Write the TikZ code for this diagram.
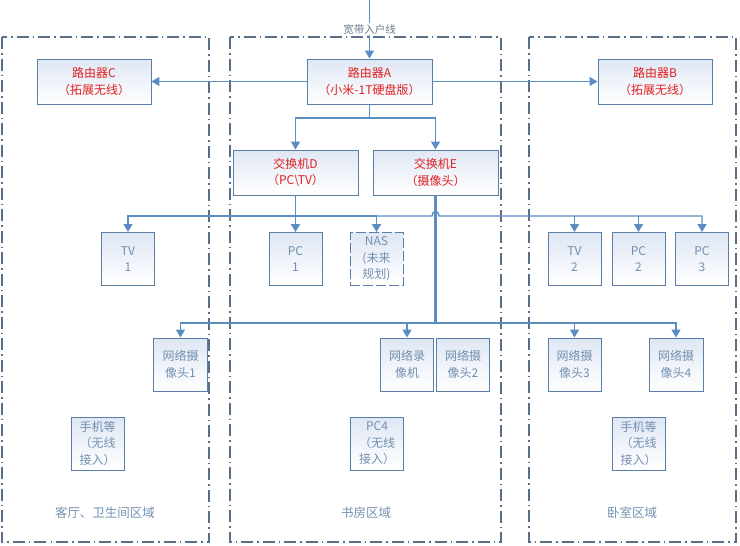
\documentclass[tikz,border=0pt]{standalone}
\usepackage{fontspec}
\usetikzlibrary{arrows.meta}
\newfontfamily\cjk{Noto Sans CJK SC}
\definecolor{boxline}{HTML}{5B7EA6}
\definecolor{linkblue}{HTML}{5B8DC3}
\definecolor{zoneline}{HTML}{5A6F88}
\definecolor{devtext}{HTML}{7390B0}
\definecolor{keytext}{HTML}{E02020}
\definecolor{boxfill}{HTML}{DFE7F4}
\definecolor{isptext}{HTML}{6B7C8E}

\tikzset{
  box/.style={draw=boxline, line width=0.9pt, top color=boxfill, bottom color=white,
    inner sep=0pt, align=center, font=\cjk\fontsize{12}{16.5}\selectfont},
  keybox/.style={box, text=keytext, minimum height=45pt},
  devbox/.style={box, text=devtext, minimum width=53pt, minimum height=53pt},
  link/.style={draw=linkblue, line width=1.4pt, -{Triangle[width=9pt,length=8pt]}},
  trunk/.style={draw=linkblue, line width=2.2pt},
  zone/.style={draw=zoneline, line width=1.3pt, dash pattern=on 12pt off 4pt on 1.5pt off 4pt},
  zonelabel/.style={text=devtext, font=\cjk\fontsize{12.5}{15}\selectfont}
}

\begin{document}
\begin{tikzpicture}[x=1pt,y=-1pt]
   \useasboundingbox (0,0) rectangle (740,546);

   \draw[zone] (2,37) rectangle (209,542);
   \draw[zone] (230,37) rectangle (501,542);
   \draw[zone] (529,37) rectangle (736,542);

   \path (369.5,81.5) node[keybox,minimum width=125pt] (A) {路由器A\\（小米-1T硬盘版）};
   \path (94,81.5) node[keybox,minimum width=114pt] (C) {路由器C\\（拓展无线）};
   \path (655,81.5) node[keybox,minimum width=114pt] (B) {路由器B\\（拓展无线）};
   \path (295.5,172.5) node[keybox,minimum width=125pt] (D) {交换机D\\（PC\textbackslash TV）};
   \path (435.5,172.5) node[keybox,minimum width=125pt] (E) {交换机E\\（摄像头）};

   \path (128,259) node[devbox] (TV1) {TV\\1};
   \path (295.5,259) node[devbox] (PC1) {PC\\1};
   \path (376.5,259) node[devbox,dash pattern=on 10pt off 3pt] (NAS) {NAS\\(未来\\规划)};
   \path (574.5,259) node[devbox] (TV2) {TV\\2};
   \path (638.5,259) node[devbox] (PC2) {PC\\2};
   \path (702,259) node[devbox] (PC3) {PC\\3};

   \path (180.5,364.5) node[devbox,minimum width=54pt] (Cam1) {网络摄\\像头1};
   \path (407,364.5) node[devbox] (NVR) {网络录\\像机};
   \path (463,364.5) node[devbox] (Cam2) {网络摄\\像头2};
   \path (574.5,364.5) node[devbox] (Cam3) {网络摄\\像头3};
   \path (676,364.5) node[devbox,minimum width=54pt] (Cam4) {网络摄\\像头4};

   \path (97.5,443.5) node[devbox] (W1) {手机等\\（无线\\接入）};
   \path (377,443.5) node[devbox] (PC4) {PC4\\（无线\\接入）};
   \path (638.5,443.5) node[devbox] (W3) {手机等\\（无线\\接入）};

   \path (105,513) node[zonelabel] (Z1) {客厅、卫生间区域};
   \path (366,513) node[zonelabel] (Z2) {书房区域};
   \path (632,513) node[zonelabel] (Z3) {卧室区域};

   \coordinate (isp) at (369.5,0);
   \coordinate (busA) at (0,118);
   \coordinate (busD) at (0,216);
   \coordinate (busE) at (0,323);
   \coordinate (hop) at (E.south |- busD);

   \draw[link] (isp) -- node[fill=white,inner sep=1pt,text=isptext,
     font=\cjk\fontsize{10.5}{12}\selectfont] (ISP) {宽带入户线} (A.north);
   \draw[link] (A.west) -- (C.east);
   \draw[link] (A.east) -- (B.west);
   \draw[link] (A.south) -- (A.south |- busA) -| (D.north);
   \draw[link] (A.south |- busA) -| (E.north);

   \draw[trunk] (E.south) -- (E.south |- busE);
   \draw[link] (D.south) -- (PC1.north);
   \draw[link] (D.south |- busD) -| (TV1.north);
   \draw[link] (D.south |- busD) -| (NAS.north);
   \draw[link] (NAS.north |- busD) -- ([xshift=-3.5pt]hop)
     .. controls +(0,-6) and +(0,-6) .. ([xshift=3.5pt]hop) -| (PC3.north);
   \draw[link] (TV2.north |- busD) -- (TV2.north);
   \draw[link] (PC2.north |- busD) -- (PC2.north);

   \draw[link] (E.south |- busE) -| (Cam1.north);
   \draw[link] (E.south |- busE) -| (NVR.north);
   \draw[link] (E.south |- busE) -| (Cam4.north);
   \draw[link] (Cam3.north |- busE) -- (Cam3.north);
\end{tikzpicture}
\end{document}
